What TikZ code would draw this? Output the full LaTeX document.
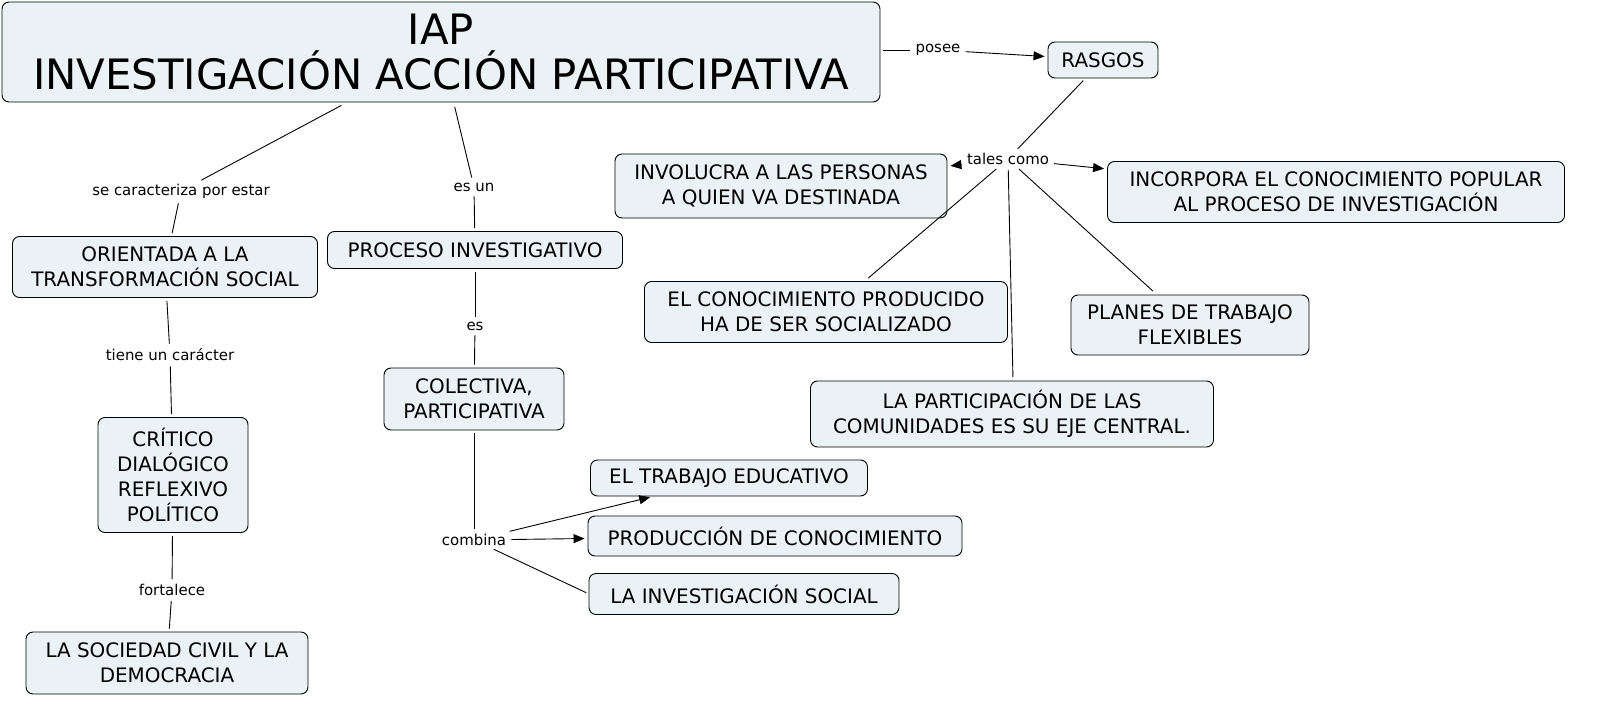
\documentclass[tikz,border=0pt]{standalone}
\usepackage{fontspec}
\setmainfont{DejaVu Sans}
\usetikzlibrary{arrows.meta}
\definecolor{boxfill}{HTML}{EBF2F5}
\begin{document}
\begin{tikzpicture}[x=1bp,y=-1bp,
  box/.style={draw=black,fill=boxfill,rounded corners=7bp,line width=0.9bp,align=center,font=\fontsize{20}{25}\selectfont,inner sep=0pt},
  lab/.style={font=\fontsize{15}{18}\selectfont,inner sep=2bp},
  con/.style={line width=0.9bp,shorten <=3bp,shorten >=3bp},
  arr/.style={con,-{Triangle[length=11bp,width=9bp]}}]
\useasboundingbox (0,0) rectangle (1600,711);
\node[box,minimum width=878bp,minimum height=100bp,font=\fontsize{42}{46}\selectfont] (t) at (441,52) {IAP\\INVESTIGACIÓN ACCIÓN PARTICIPATIVA};
\node[box,minimum width=110bp,minimum height=36bp] (ras) at (1103,60) {RASGOS};
\node[box,minimum width=332bp,minimum height=64bp] (inv) at (781,186) {INVOLUCRA A LAS PERSONAS\\A QUIEN VA DESTINADA};
\node[box,minimum width=457bp,minimum height=61bp] (inc) at (1336,192) {INCORPORA EL CONOCIMIENTO POPULAR\\AL PROCESO DE INVESTIGACIÓN};
\node[box,minimum width=363bp,minimum height=61bp] (cp) at (826,312) {EL CONOCIMIENTO PRODUCIDO\\HA DE SER SOCIALIZADO};
\node[box,minimum width=238bp,minimum height=60bp] (pl) at (1190,325) {PLANES DE TRABAJO\\FLEXIBLES};
\node[box,minimum width=403bp,minimum height=66bp] (par) at (1012,414) {LA PARTICIPACIÓN DE LAS\\COMUNIDADES ES SU EJE CENTRAL.};
\node[box,minimum width=305bp,minimum height=61bp] (ori) at (165,267) {ORIENTADA A LA\\TRANSFORMACIÓN SOCIAL};
\node[box,minimum width=295bp,minimum height=37bp] (pro) at (475,250) {PROCESO INVESTIGATIVO};
\node[box,minimum width=180bp,minimum height=62bp] (col) at (474,399) {COLECTIVA,\\PARTICIPATIVA};
\node[box,minimum width=150bp,minimum height=115bp] (cri) at (173,475) {CRÍTICO\\DIALÓGICO\\REFLEXIVO\\POLÍTICO};
\node[box,minimum width=282bp,minimum height=62bp] (soc) at (167,663) {LA SOCIEDAD CIVIL Y LA\\DEMOCRACIA};
\node[box,minimum width=277bp,minimum height=36bp] (tra) at (729,478) {EL TRABAJO EDUCATIVO};
\node[box,minimum width=374bp,minimum height=40bp] (prd) at (775,536) {PRODUCCIÓN DE CONOCIMIENTO};
\node[box,minimum width=310bp,minimum height=41bp] (lis) at (744,594) {LA INVESTIGACIÓN SOCIAL};
\node[lab] (posee) at (938,50) {posee};
\node[lab] (tc) at (1008,159) {tales como};
\node[lab] (sc) at (181,191) {se caracteriza por estar};
\node[lab] (esun) at (474,187) {es un};
\node[lab] (es) at (475,326) {es};
\node[lab] (tuc) at (170,355) {tiene un carácter};
\node[lab] (fo) at (172,590) {fortalece};
\node[lab] (co) at (474,540) {combina};
\coordinate (c1) at (866,280);
\coordinate (c2) at (1013,380);
\coordinate (c3) at (1155,293);
\coordinate (c4) at (344,104);
\coordinate (c5) at (454,104);
\coordinate (c6) at (589,594);
\draw[con] (t.east|-posee) -- (posee);
\draw[arr] (posee) -- (ras);
\draw[con] (ras) -- (tc);
\draw[arr] (tc) -- (inv);
\draw[arr] (tc) -- (inc);
\draw[con] (tc) -- (c1);
\draw[con] (tc) -- (c2);
\draw[con] (tc) -- (c3);
\draw[con] (c4) -- (sc);
\draw[con] (sc) -- (ori);
\draw[con] (c5) -- (esun);
\draw[con] (esun) -- (pro);
\draw[con] (pro) -- (es);
\draw[con] (es) -- (col);
\draw[con] (col) -- (co);
\draw[arr] (co) -- (tra);
\draw[arr] (co) -- (prd);
\draw[con] (co) -- (c6);
\draw[con] (ori) -- (tuc);
\draw[con] (tuc) -- (cri);
\draw[con] (cri) -- (fo);
\draw[con] (fo) -- (soc);
\end{tikzpicture}
\end{document}
